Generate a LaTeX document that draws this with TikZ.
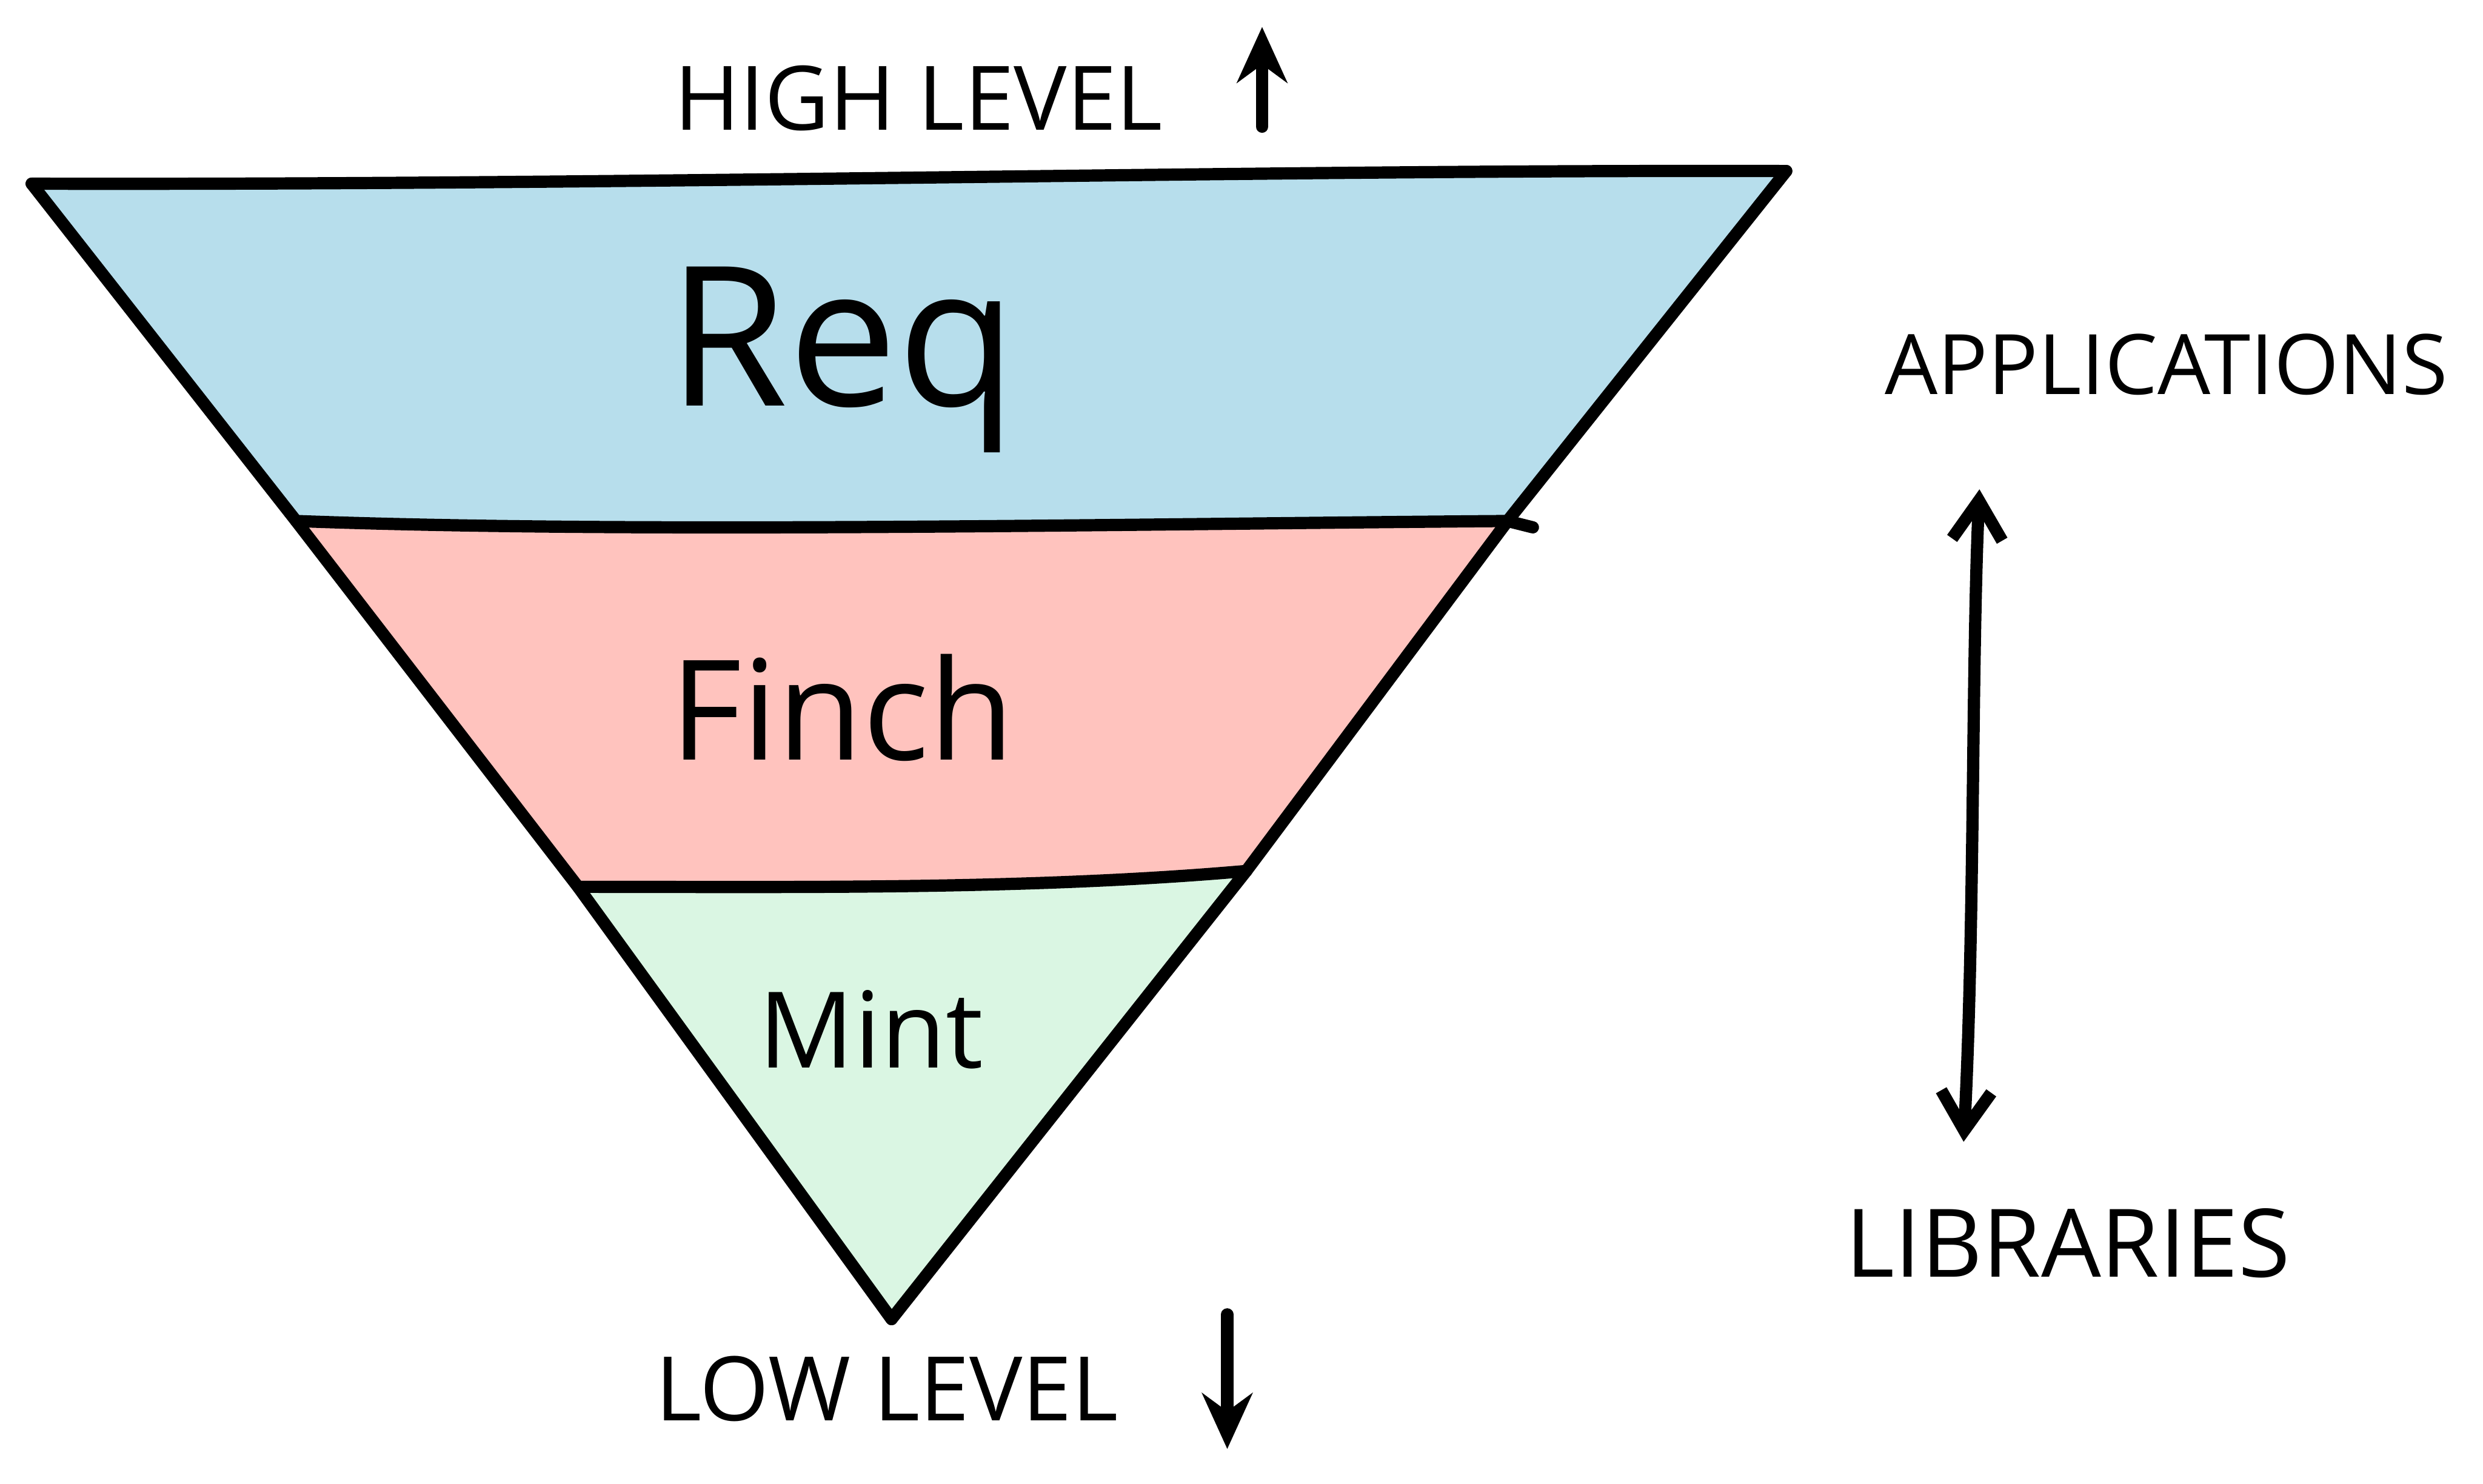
\documentclass[tikz,border=0pt]{standalone}
\usepackage{fontspec}
\setmainfont{Open Sans}
\usepackage{xcolor}
\usetikzlibrary{arrows.meta, positioning}

\definecolor{reqblue}{HTML}{B7DEEC}
\definecolor{finchred}{HTML}{FFC3BE}
\definecolor{mintgreen}{HTML}{DAF6E3}

\tikzset{
  edgeline/.style={line width=2.2pt, line cap=round, line join=round},
  layer/.style={font=#1},
  side/.style={font=\fontsize{15}{15}\selectfont},
  lvl/.style={font=\fontsize{16}{16}\selectfont},
}

\begin{document}
\begin{tikzpicture}

        \useasboundingbox (0,0) rectangle (15.68,9.37);

        % corners of the funnel
        \coordinate (tl) at (0.20,8.21);
        \coordinate (tr) at (11.28,8.29);
        \coordinate (apex) at (5.63,1.04);
        \coordinate (l1) at (1.87,6.08);
        \coordinate (r1) at (9.52,6.08);
        \coordinate (l2) at (3.65,3.77);
        \coordinate (r2) at (7.87,3.87);

        % bands
        \fill[reqblue] (tl) .. controls (4,8.20) and (8,8.30) .. (tr) -- (r1) .. controls (7,6.06) and (4,6.00) .. (l1) -- cycle;
        \fill[finchred] (l1) .. controls (4,6.00) and (7,6.06) .. (r1) -- (r2) .. controls (6.5,3.75) and (5,3.77) .. (l2) -- cycle;
        \fill[mintgreen] (l2) .. controls (5,3.77) and (6.5,3.75) .. (r2) -- (apex) -- cycle;

        % outline
        \draw[edgeline] (tl) .. controls (4,8.20) and (8,8.30) .. (tr);
        \draw[edgeline] (tl) -- (l1) -- (l2) -- (apex);
        \draw[edgeline] (tr) -- (r1) -- (r2) -- (apex);
        \draw[edgeline] (l1) .. controls (4,6.00) and (7,6.06) .. (r1) -- (9.68,6.04);
        \draw[edgeline] (l2) .. controls (5,3.77) and (6.5,3.75) .. (r2);

        % layer names
        \node[layer=\fontsize{35}{35}\selectfont] (req) at (5.32,7.10) {Req};
        \node[layer=\fontsize{25}{25}\selectfont] (finch) at (5.32,4.90) {Finch};
        \node[layer=\fontsize{19}{19}\selectfont] (mint) at (5.50,2.87) {Mint};

        % levels
        \node[lvl] (high) at (5.80,8.75) {HIGH LEVEL};
        \node[lvl] (low) at (5.60,0.60) {LOW LEVEL};
        \coordinate (highfoot) at (7.97,8.57);
        \coordinate (hightip) at (7.97,9.20);
        \coordinate (lowtop) at (7.75,1.07);
        \coordinate (lowtip) at (7.75,0.22);
        \draw[edgeline, -{Stealth[length=10pt, width=9pt]}] (highfoot) -- (hightip);
        \draw[edgeline, -{Stealth[length=10pt, width=9pt]}] (lowtop) -- (lowtip);

        % applications / libraries
        \node[side] (apps) at (13.68,7.07) {APPLICATIONS};
        \node[side, font=\fontsize{17}{17}\selectfont] (libs) at (13.06,1.52) {LIBRARIES};
        \coordinate (appsend) at (12.50,6.28);
        \coordinate (libsend) at (12.40,2.16);
        \draw[edgeline, {Straight Barb[length=7pt, width=9pt]}-{Straight Barb[length=7pt, width=9pt]}] (appsend) .. controls (12.45,5.2) and (12.47,3.5) .. (libsend);

\end{tikzpicture}
\end{document}
